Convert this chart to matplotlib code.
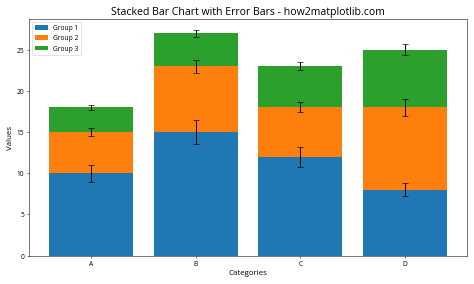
import numpy as np
import matplotlib
matplotlib.use('Agg')
import matplotlib.pyplot as plt

plt.rcParams['font.family'] = ['Open Sans', 'DejaVu Sans']

# Data
categories = ['A', 'B', 'C', 'D']
group1 = np.array([10, 15, 12, 8])
group2 = np.array([5, 8, 6, 10])
group3 = np.array([3, 4, 5, 7])
err1 = [1.0, 1.5, 1.2, 0.8]
err2 = [0.5, 0.8, 0.6, 1.0]
err3 = [0.3, 0.4, 0.5, 0.7]

fig, ax = plt.subplots(figsize=(10, 6), dpi=47.4)

ax.bar(categories, group1, yerr=err1, capsize=5, label='Group 1')
ax.bar(categories, group2, bottom=group1, yerr=err2, capsize=5, label='Group 2')
ax.bar(categories, group3, bottom=group1 + group2, yerr=err3, capsize=5, label='Group 3')

ax.set_title('Stacked Bar Chart with Error Bars - how2matplotlib.com', fontsize=16)
ax.set_xlabel('Categories', fontsize=12)
ax.set_ylabel('Values', fontsize=12)
ax.legend(loc='upper left')

plt.tight_layout()
plt.savefig('out.png', dpi=47.4)
